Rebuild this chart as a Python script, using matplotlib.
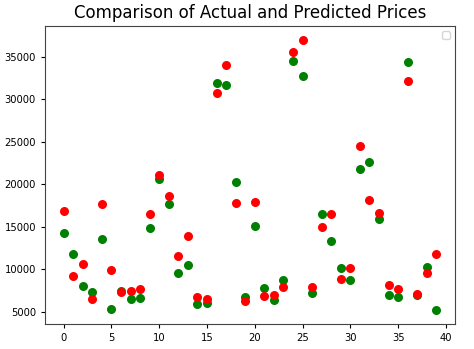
import matplotlib
matplotlib.use("Agg")
import matplotlib.pyplot as plt
import warnings

idx = list(range(40))
actual = [14294, 11798, 8082, 7309, 13520, 5270, 7500, 6489, 6560, 14810,
          20588, 17622, 9535, 10508, 5900, 5973, 31874, 31686, 20271, 6723,
          15044, 7848, 6325, 8715, 34460, 32741, 7192, 16450, 13321, 10192,
          8715, 21795, 22662, 15864, 6992, 6758, 34382, 7000, 10309, 5152]
predicted = [16872, 9255, 10626, 6442, 17622, 9887, 7344, 7422, 7657, 16450,
             21056, 18595, 11600, 13942, 6793, 6489, 30702, 34030, 17740, 6207,
             17927, 6875, 6992, 7930, 35554, 37031, 7969, 15000, 16450, 8903,
             10192, 24490, 18126, 16567, 8164, 7657, 32190, 7110, 9535, 11798]

fig = plt.figure(figsize=(4.74, 3.49), dpi=100)
ax = fig.add_axes([45/474, 1-324/349, 410/474, 298/349])
ax.scatter(idx, actual, color='green', s=30)
ax.scatter(idx, predicted, color='red', s=30)
ax.set_title('Comparison of Actual and Predicted Prices', fontsize=12)
ax.tick_params(labelsize=7.2, length=3)
for sp in ax.spines.values():
    sp.set_color('#444444')
warnings.filterwarnings('ignore')
ax.legend(fontsize=7)
fig.savefig('out.png', dpi=100)
